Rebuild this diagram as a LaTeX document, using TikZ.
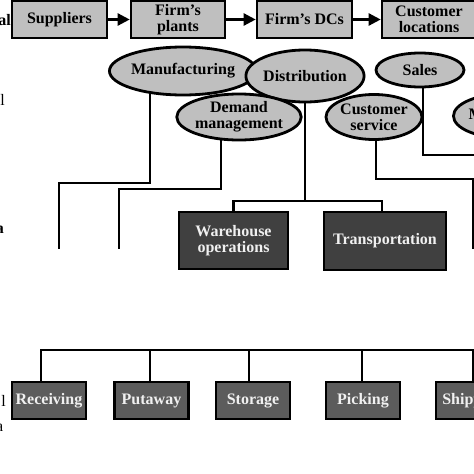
\documentclass[tikz,border=0pt]{standalone}
\usepackage{fontspec}
\setmainfont{Liberation Serif}
\usetikzlibrary{shapes.geometric,arrows.meta,backgrounds}
\definecolor{lightg}{HTML}{BFBFBF}
\definecolor{darkg}{HTML}{404040}
\definecolor{midg}{HTML}{5C5C5C}
\begin{document}
\begin{tikzpicture}[x=1pt,y=-1pt,
  every node/.style={font=\fontsize{16}{16}\selectfont\bfseries, align=center, inner sep=0pt},
  topbox/.style={draw=black, line width=2.6pt, fill=lightg, minimum height=37pt},
  oval/.style={ellipse, draw=black, line width=2.8pt, fill=lightg},
  whbox/.style={draw=black, line width=2.6pt, fill=darkg, text=white!94!black},
  opbox/.style={draw=black, line width=2.6pt, fill=midg, text=white!94!black, minimum width=74pt, minimum height=37pt, text height=11pt, text depth=4pt},
  conn/.style={draw=black, line width=2.4pt},
  arr/.style={conn, -{Triangle[length=12pt,width=12pt]}},
  frag/.style={font=\fontsize{16}{16}\selectfont, anchor=base east}]
\path[use as bounding box] (0,0) rectangle (474,474);
\clip (0,0) rectangle (474,474);

% left edge fragments
\node[frag, font=\fontsize{16}{16}\selectfont\bfseries] (fa) at (11,25) {al};
\node[frag] (fb) at (5,105) {l};
\node[frag, font=\fontsize{16}{16}\selectfont\bfseries] (fc) at (4,233) {a};
\node[frag] (fd) at (6,406) {l};
\node[frag] (fe) at (3.5,431) {a};

% top chain
\node[topbox, minimum width=95pt] (sup) at (59.5,19.5) {Suppliers};
\node[topbox, minimum width=94pt] (fp) at (178,19.5) {Firm’s\\plants};
\node[topbox, minimum width=95pt] (dc) at (304.5,19.5) {Firm’s DCs};
\node[topbox, minimum width=94pt] (cl) at (429,19.5) {Customer\\locations};
\draw[arr] (sup) -- (fp);
\draw[arr] (fp) -- (dc);
\draw[arr] (dc) -- (cl);

% ellipses
\node[oval, minimum width=126pt, minimum height=48pt] (mfg) at (183,71) {Manufacturing};
\node[oval, minimum width=102pt, minimum height=52pt] (dist) at (305,76) {Distribution};
\node[oval, minimum width=88pt, minimum height=34pt] (sales) at (420,70) {Sales};
\node[oval, minimum width=110pt, minimum height=46pt] (dem) at (239,117) {Demand\\management};
\node[oval, minimum width=96pt, minimum height=45pt] (cs) at (374,117) {Customer\\service};
\node[oval, minimum width=100pt, minimum height=44pt] (mkt) at (505,116) {Marketing};

% second level boxes
\node[whbox, minimum width=109pt, minimum height=57pt] (wo) at (233.5,240.5) {Warehouse\\operations};
\node[whbox, minimum width=122pt, minimum height=58pt] (tr) at (385,241) {Transportation};

% bottom boxes
\node[opbox] (rec) at (49,400.5) {Receiving};
\node[opbox] (put) at (151.5,400.5) {Putaway};
\node[opbox] (sto) at (253,400.5) {Storage};
\node[opbox] (pic) at (363,400.5) {Picking};
\node[opbox] (shp) at (473,400.5) {Shipping};

% free ends
\coordinate (e1) at (59,249);
\coordinate (e2) at (119,249);
\coordinate (e3) at (473,249);
\coordinate (e4) at (490,155);
\coordinate (busend) at (490,350);

\begin{scope}[on background layer]
\draw[conn] ([xshift=-33pt]mfg.center) -- ++(0,112) -| (e1);
\draw[conn] ([xshift=-18pt]dem.center) -- ++(0,72) -| (e2);
\draw[conn] (dist.center) -- ++(0,125) coordinate (dj);
\draw[conn] (dj) -| (wo.north);
\draw[conn] (dj) -| ([xshift=-3pt]tr.north);
\draw[conn] ([xshift=2pt]cs.center) -- ++(0,62) -| (e3);
\draw[conn] ([xshift=3pt]sales.center) |- (e4);
\draw[conn] ([xshift=-8pt]rec.north) |- (busend);
\draw[conn] ([xshift=-1.5pt]put.north) -- ++(0,-32);
\draw[conn] ([xshift=-4pt]sto.north) -- ++(0,-32);
\draw[conn] ([xshift=-1pt]pic.north) -- ++(0,-32);
\draw[conn] (shp.north) -- ++(0,-32);
\end{scope}
\end{tikzpicture}
\end{document}
